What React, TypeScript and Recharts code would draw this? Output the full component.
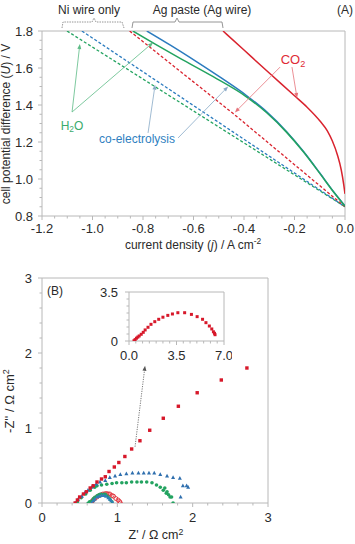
import React from 'react';
import { LineChart, Line, XAxis, YAxis, ScatterChart, Scatter, ReferenceLine } from 'recharts';

const FONT = '"Liberation Sans", Arial, sans-serif';
const AXIS = '#b8b8b8';
const TXT = '#2a2a2a';
const RED = '#d9232e';
const BLUE = '#2b7bbf';
const GREEN = '#23a360';

// ---------- Panel A : U-j curves ----------
const co2AgJ = [-0.483, -0.4, -0.3, -0.2, -0.15, -0.1, -0.07, -0.05, -0.03, -0.015, -0.005, 0];
const co2AgU = [1.8, 1.697, 1.573, 1.45, 1.388, 1.315, 1.26, 1.205, 1.13, 1.05, 0.97, 0.92];
const co2DashJ = [-0.853, -0.444, 0];
const co2DashU = [1.8, 1.355, 0.85];
const coelSolidJ = [-0.785, -0.69, -0.587, -0.49, -0.389, -0.31, -0.231, -0.165, -0.099, -0.046, 0];
const coelSolidU = [1.8, 1.722, 1.633, 1.546, 1.45, 1.363, 1.256, 1.15, 1.031, 0.933, 0.855];
const h2oSolidJ = [-0.84, -0.75, -0.653, -0.522, -0.389, -0.31, -0.231, -0.165, -0.099, -0.046, 0];
const h2oSolidU = [1.8, 1.728, 1.652, 1.553, 1.443, 1.358, 1.252, 1.147, 1.029, 0.931, 0.853];
const coelDashJ = [-1.042, 0];
const coelDashU = [1.8, 0.85];
const h2oDashJ = [-1.101, 0];
const h2oDashU = [1.8, 0.85];

const aXMajor = [-1.2, -1.0, -0.8, -0.6, -0.4, -0.2, 0.0];
const aXMinor = [-1.2, -1.15, -1.1, -1.05, -1.0, -0.95, -0.9, -0.85, -0.8, -0.75, -0.7, -0.65, -0.6, -0.55, -0.5, -0.45, -0.4, -0.35, -0.3, -0.25, -0.2, -0.15, -0.1, -0.05, 0];
const aYMajor = [0.8, 1.0, 1.2, 1.4, 1.6, 1.8];
const aYMinor = [0.8, 0.85, 0.9, 0.95, 1.0, 1.05, 1.1, 1.15, 1.2, 1.25, 1.3, 1.35, 1.4, 1.45, 1.5, 1.55, 1.6, 1.65, 1.7, 1.75, 1.8];

// annotation arrows (data coordinates): [j1, U1, j2, U2]
const h2oArrows = [[-1.081, 1.362, -1.05, 1.73], [-1.081, 1.362, -0.76, 1.738]];
const coelArrows = [[-0.78, 1.249, -0.752, 1.51], [-0.661, 1.222, -0.463, 1.5]];
const co2Arrows = [[-0.257, 1.605, -0.436, 1.36], [-0.21, 1.605, -0.19, 1.438]];

// ---------- Panel B : Nyquist ----------
const bigRedX = [0.44, 0.47, 0.5, 0.55, 0.59, 0.64, 0.68, 0.73, 0.79, 0.84, 0.89, 0.96, 1.02, 1.1, 1.19, 1.3, 1.43, 1.61, 1.81, 2.06, 2.38, 2.72];
const bigRedY = [0.0, 0.04, 0.08, 0.12, 0.15, 0.2, 0.23, 0.28, 0.32, 0.35, 0.42, 0.48, 0.54, 0.62, 0.72, 0.83, 0.97, 1.13, 1.29, 1.47, 1.64, 1.8];
const bigBlueX = [0.44, 0.48, 0.53, 0.57, 0.61, 0.66, 0.72, 0.77, 0.84, 0.9, 0.97, 1.04, 1.12, 1.2, 1.28, 1.35, 1.42, 1.49, 1.57, 1.66, 1.74, 1.83, 1.87, 1.92, 1.94, 1.84];
const bigBlueY = [0.0, 0.05, 0.09, 0.14, 0.17, 0.21, 0.25, 0.28, 0.3, 0.34, 0.36, 0.38, 0.39, 0.4, 0.4, 0.4, 0.4, 0.4, 0.38, 0.36, 0.34, 0.33, 0.23, 0.23, 0.21, 0.08];
const bigGreenX = [0.47, 0.52, 0.58, 0.64, 0.7, 0.73, 0.79, 0.86, 0.93, 0.99, 1.06, 1.12, 1.19, 1.26, 1.32, 1.39, 1.46, 1.52, 1.57, 1.61, 1.63, 1.66, 1.65, 1.68, 1.7, 1.72, 1.74];
const bigGreenY = [0.02, 0.07, 0.12, 0.17, 0.21, 0.23, 0.24, 0.25, 0.26, 0.27, 0.27, 0.27, 0.28, 0.28, 0.28, 0.28, 0.27, 0.24, 0.21, 0.17, 0.2, 0.15, 0.13, 0.11, 0.08, 0.08, 0.0];
const smallRedX = [0.64, 0.66, 0.68, 0.7, 0.73, 0.76, 0.79, 0.81, 0.84, 0.86, 0.88, 0.9, 0.93, 0.95, 0.98, 1.01, 1.03, 1.04];
const smallRedY = [0.0, 0.02, 0.04, 0.06, 0.08, 0.1, 0.11, 0.12, 0.125, 0.125, 0.12, 0.12, 0.1, 0.09, 0.06, 0.04, 0.02, 0.0];
const smallGreenX = [0.61, 0.63, 0.66, 0.68, 0.7, 0.73, 0.75, 0.77, 0.79, 0.82, 0.84, 0.86, 0.88, 0.9, 0.91, 0.93];
const smallGreenY = [0.0, 0.02, 0.03, 0.06, 0.08, 0.1, 0.11, 0.12, 0.12, 0.12, 0.12, 0.1, 0.08, 0.06, 0.04, 0.02];
const smallBlueX = [0.66, 0.68, 0.7, 0.73, 0.76, 0.79, 0.82, 0.85, 0.88, 0.9, 0.92, 0.94];
const smallBlueY = [0.0, 0.03, 0.05, 0.08, 0.09, 0.1, 0.1, 0.09, 0.07, 0.05, 0.03, 0.0];

const bMajor = [0, 1, 2, 3];
const bMinor = [0, 0.2, 0.4, 0.6, 0.8, 1, 1.2, 1.4, 1.6, 1.8, 2, 2.2, 2.4, 2.6, 2.8, 3];
const zoomArrow = [1.235, 0.75, 1.368, 1.83];

// inset
const insetX = [0.37, 0.45, 0.55, 0.65, 0.75, 0.9, 1.05, 1.19, 1.4, 1.62, 1.9, 2.19, 2.5, 2.86, 3.2, 3.6, 4.1, 4.6, 5.02, 5.42, 5.67, 5.92, 6.1, 6.22, 6.3, 6.34];
const insetY = [0.02, 0.1, 0.2, 0.28, 0.36, 0.48, 0.62, 0.79, 0.98, 1.19, 1.38, 1.55, 1.7, 1.83, 1.93, 2.02, 2.02, 1.9, 1.74, 1.55, 1.31, 1.07, 0.86, 0.66, 0.55, 0.45];
const iXMajor = [0, 3.5, 7];
const iXMinor = [0, 0.5, 1, 1.5, 2, 2.5, 3, 3.5, 4, 4.5, 5, 5.5, 6, 6.5, 7];
const iYMajor = [0, 3.5];
const iYMinor = [0, 0.5, 1, 1.5, 2, 2.5, 3, 3.5];

const zipJU = (j: number[], u: number[]) => j.map((v, i) => ({ j: v, u: u[i] }));
const zipXY = (x: number[], y: number[]) => x.map((v, i) => ({ x: v, y: y[i] }));

const makeTick = (orient: 'bottom' | 'left', majors: number[], fmt: (v: number) => string, gap: number, fs = 13) => (props: any) => {
  const { x, y, payload } = props;
  const v = payload.value;
  const isMajor = majors.some((m) => Math.abs(m - v) < 1e-6);
  const len = isMajor ? 4 : 2.5;
  if (orient === 'bottom') {
    return (
      <g>
        <line x1={x} y1={y} x2={x} y2={y + len} stroke={AXIS} />
        {isMajor && (
          <text x={x} y={y + gap} dy="0.71em" textAnchor="middle" fontSize={fs} fontFamily={FONT} fill={TXT}>
            {fmt(v)}
          </text>
        )}
      </g>
    );
  }
  return (
    <g>
      <line x1={x} y1={y} x2={x - len} y2={y} stroke={AXIS} />
      {isMajor && (
        <text x={x - gap} y={y} dy="0.355em" textAnchor="end" fontSize={fs} fontFamily={FONT} fill={TXT}>
          {fmt(v)}
        </text>
      )}
    </g>
  );
};

const arrowShape = (color: string, dash?: string) => (p: any) => {
  const { x1, y1, x2, y2 } = p;
  const ang = Math.atan2(y2 - y1, x2 - x1);
  const L = 5;
  const W = 2;
  const bx = x2 - L * Math.cos(ang);
  const by = y2 - L * Math.sin(ang);
  const pts = `${x2},${y2} ${bx + W * Math.sin(ang)},${by - W * Math.cos(ang)} ${bx - W * Math.sin(ang)},${by + W * Math.cos(ang)}`;
  return (
    <g>
      <line x1={x1} y1={y1} x2={bx} y2={by} stroke={color} strokeWidth={0.8} strokeDasharray={dash} />
      <polygon points={pts} fill={color} />
    </g>
  );
};

const Txt = ({ x, y, color = TXT, size = 12, rotate = false, children }: any) => (
  <div
    style={{
      position: 'absolute',
      left: x,
      top: y,
      transform: `translate(-50%, -50%)${rotate ? ' rotate(-90deg)' : ''}`,
      whiteSpace: 'nowrap',
      color,
      fontSize: size,
      fontFamily: FONT,
      lineHeight: 1,
    }}
  >
    {children}
  </div>
);

const sub: React.CSSProperties = { fontSize: '0.7em', verticalAlign: '-0.25em' };
const sup: React.CSSProperties = { fontSize: '0.7em', verticalAlign: '0.5em' };

const sq = (color: string, s = 3.4) => (p: any) => <rect x={p.cx - s / 2} y={p.cy - s / 2} width={s} height={s} fill={color} />;
const tri = (color: string) => (p: any) => (
  <polygon points={`${p.cx},${p.cy - 2.3} ${p.cx - 2},${p.cy + 1.5} ${p.cx + 2},${p.cy + 1.5}`} fill={color} />
);
const dot = (color: string, r = 1.8) => (p: any) => <circle cx={p.cx} cy={p.cy} r={r} fill={color} />;
const ring = (color: string) => (p: any) => <circle cx={p.cx} cy={p.cy} r={2} fill="none" stroke={color} strokeWidth={0.9} />;

export default function App() {
  return (
    <div style={{ position: 'absolute', left: 0, top: 0, width: 355, height: 544, background: '#fff', fontFamily: FONT, overflow: 'hidden' }}>
      {/* Panel A */}
      <div style={{ position: 'absolute', left: 0, top: 0 }}>
        <LineChart width={355} height={250} margin={{ top: 31, right: 10, left: 0, bottom: 4 }}>
          <XAxis
            type="number"
            dataKey="j"
            domain={[-1.2, 0]}
            allowDataOverflow
            ticks={aXMinor}
            interval={0}
            tickSize={0}
            tickMargin={0}
            tickLine={false}
            height={30}
            axisLine={{ stroke: AXIS }}
            tick={makeTick('bottom', aXMajor, (v) => v.toFixed(1), 8)}
          />
          <YAxis
            type="number"
            dataKey="u"
            domain={[0.8, 1.8]}
            allowDataOverflow
            ticks={aYMinor}
            interval={0}
            tickSize={0}
            tickMargin={0}
            tickLine={false}
            width={42}
            axisLine={{ stroke: AXIS }}
            tick={makeTick('left', aYMajor, (v) => v.toFixed(1), 9)}
          />
          <ReferenceLine y={1.8} stroke={AXIS} />
          <ReferenceLine x={0} stroke={AXIS} />
          <Line data={zipJU(h2oDashJ, h2oDashU)} dataKey="u" stroke={GREEN} strokeWidth={1.3} strokeDasharray="3 2" dot={false} isAnimationActive={false} />
          <Line data={zipJU(coelDashJ, coelDashU)} dataKey="u" stroke={BLUE} strokeWidth={1.3} strokeDasharray="3 2" dot={false} isAnimationActive={false} />
          <Line data={zipJU(co2DashJ, co2DashU)} dataKey="u" stroke={RED} strokeWidth={1.3} strokeDasharray="3 2" dot={false} isAnimationActive={false} />
          <Line data={zipJU(coelSolidJ, coelSolidU)} type="monotone" dataKey="u" stroke={BLUE} strokeWidth={1.5} dot={false} isAnimationActive={false} />
          <Line data={zipJU(h2oSolidJ, h2oSolidU)} type="monotone" dataKey="u" stroke={GREEN} strokeWidth={1.5} dot={false} isAnimationActive={false} />
          <Line data={zipJU(co2AgJ, co2AgU)} type="monotone" dataKey="u" stroke={RED} strokeWidth={1.5} dot={false} isAnimationActive={false} />
          {h2oArrows.map((a, i) => (
            <ReferenceLine key={'h' + i} segment={[{ x: a[0], y: a[1] }, { x: a[2], y: a[3] }]} shape={arrowShape('#5dbb86')} />
          ))}
          {coelArrows.map((a, i) => (
            <ReferenceLine key={'c' + i} segment={[{ x: a[0], y: a[1] }, { x: a[2], y: a[3] }]} shape={arrowShape('#88a9c6')} />
          ))}
          {co2Arrows.map((a, i) => (
            <ReferenceLine key={'r' + i} segment={[{ x: a[0], y: a[1] }, { x: a[2], y: a[3] }]} shape={arrowShape('#e6737b')} />
          ))}
        </LineChart>
      </div>

      {/* Panel B main */}
      <div style={{ position: 'absolute', left: 0, top: 260 }}>
        <ScatterChart width={355} height={284} margin={{ top: 18, right: 87, left: 0, bottom: 16 }}>
          <XAxis
            type="number"
            dataKey="x"
            domain={[0, 3]}
            allowDataOverflow
            ticks={bMinor}
            interval={0}
            tickSize={0}
            tickMargin={0}
            tickLine={false}
            height={25}
            axisLine={{ stroke: AXIS }}
            tick={makeTick('bottom', bMajor, (v) => String(v), 10)}
          />
          <YAxis
            type="number"
            dataKey="y"
            domain={[0, 3]}
            allowDataOverflow
            ticks={bMinor}
            interval={0}
            tickSize={0}
            tickMargin={0}
            tickLine={false}
            width={42}
            axisLine={{ stroke: AXIS }}
            tick={makeTick('left', bMajor, (v) => String(v), 10)}
          />
          <ReferenceLine y={3} stroke={AXIS} />
          <ReferenceLine x={3} stroke={AXIS} />
          <ReferenceLine
            segment={[{ x: zoomArrow[0], y: zoomArrow[1] }, { x: zoomArrow[2], y: zoomArrow[3] }]}
            shape={arrowShape('#555', '1.2 1.2')}
          />
          <Scatter data={zipXY(bigGreenX, bigGreenY)} shape={dot(GREEN)} isAnimationActive={false} />
          <Scatter data={zipXY(bigBlueX, bigBlueY)} shape={tri('#2f6fae')} isAnimationActive={false} />
          <Scatter data={zipXY(bigRedX, bigRedY)} shape={sq('#d7182a')} isAnimationActive={false} />
          <Scatter data={zipXY(smallRedX, smallRedY)} shape={ring('#e0303a')} isAnimationActive={false} />
          <Scatter data={zipXY(smallGreenX, smallGreenY)} shape={dot(GREEN, 1.6)} isAnimationActive={false} />
          <Scatter data={zipXY(smallBlueX, smallBlueY)} shape={tri('#2f7fb8')} isAnimationActive={false} />
        </ScatterChart>
      </div>

      {/* Panel B inset */}
      <div style={{ position: 'absolute', left: 99, top: 284 }}>
        <ScatterChart width={133} height={79} margin={{ top: 8, right: 8, left: 0, bottom: 0 }}>
          <XAxis
            type="number"
            dataKey="x"
            domain={[0, 7]}
            allowDataOverflow
            ticks={iXMinor}
            interval={0}
            tickSize={0}
            tickMargin={0}
            tickLine={false}
            height={22}
            axisLine={{ stroke: AXIS }}
            tick={makeTick('bottom', iXMajor, (v) => v.toFixed(1), 10)}
          />
          <YAxis
            type="number"
            dataKey="y"
            domain={[0, 3.5]}
            allowDataOverflow
            ticks={iYMinor}
            interval={0}
            tickSize={0}
            tickMargin={0}
            tickLine={false}
            width={30}
            axisLine={{ stroke: AXIS }}
            tick={makeTick('left', iYMajor, (v) => (v === 0 ? '0' : v.toFixed(1)), 11)}
          />
          <ReferenceLine y={3.5} stroke={AXIS} />
          <ReferenceLine x={7} stroke={AXIS} />
          <Scatter data={zipXY(insetX, insetY)} shape={sq('#d7182a', 3)} isAnimationActive={false} />
        </ScatterChart>
      </div>

      {/* brackets */}
      <svg style={{ position: 'absolute', left: 0, top: 0 }} width={355} height={32}>
        <path d="M62,28 L63,22 L92,22 L94,18 L96,22 L122,22 L124,28" fill="none" stroke="#8a8a8a" strokeWidth={0.9} strokeDasharray="1.5 1" />
        <path d="M132,28 L133,22 L175,22 L177,18 L179,22 L222,22 L223,28" fill="none" stroke="#8a8a8a" strokeWidth={0.9} />
      </svg>

      {/* texts panel A */}
      <Txt x={89} y={10}>Ni wire only</Txt>
      <Txt x={202} y={10}>Ag paste (Ag wire)</Txt>
      <Txt x={345} y={10}>(A)</Txt>
      <Txt x={72} y={127} color="#3aab6c">H<span style={sub}>2</span>O</Txt>
      <Txt x={137} y={139} color="#2f7fbf">co-electrolysis</Txt>
      <Txt x={293} y={61} color="#e02a36" size={13}>CO<span style={sub}>2</span></Txt>
      <Txt x={6} y={124} rotate>
        cell potential difference (<i>U</i>) / V
      </Txt>
      <Txt x={193} y={244}>
        current density (<i>j</i>) / A cm<span style={sup}>-2</span>
      </Txt>

      {/* texts panel B */}
      <Txt x={55} y={291}>(B)</Txt>
      <Txt x={9} y={401} rotate size={13}>
        -Z'' / Ω cm<span style={sup}>2</span>
      </Txt>
      <Txt x={156} y={535} size={12.5}>
        Z' / Ω cm<span style={sup}>2</span>
      </Txt>
    </div>
  );
}
